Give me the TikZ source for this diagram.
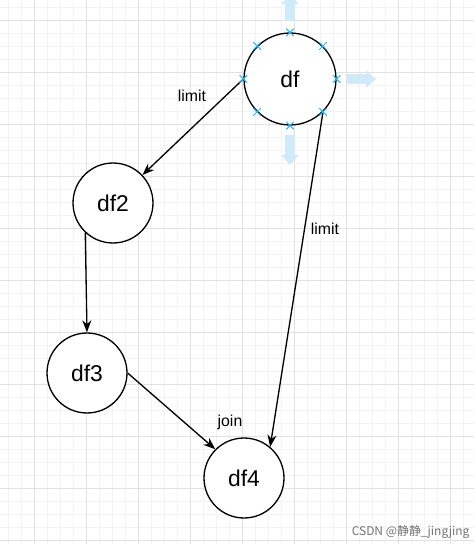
\documentclass[tikz,border=0pt]{standalone}
\usepackage{fontspec}
\setmainfont{Liberation Sans}
\newfontfamily\cjk{Noto Sans CJK SC}
\usetikzlibrary{arrows.meta}
\usetikzlibrary{shapes.misc}
\definecolor{gridminor}{RGB}{243,243,243}
\definecolor{gridmajor}{RGB}{225,225,225}
\definecolor{handleblue}{RGB}{41,182,242}
\definecolor{hintblue}{RGB}{208,234,250}
\tikzset{
every picture/.style={x=0.02cm, y=-0.02cm, line width=0.75pt,
                      >={Stealth[length=2.4mm,width=1.8mm]}},
%%%%%%%%%% grid lines
minorline/.style={draw=gridminor, line width=0.35pt},
majorline/.style={draw=gridmajor, line width=0.5pt},
%%%%%%%%%% frame nodes
dfnode/.style={circle, draw, fill=white, inner sep=0pt, minimum size=#1,
               font=\fontsize{13}{15}\selectfont},
dfnode/.default=1.6cm,
edgelabel/.style={font=\fontsize{9}{11}\selectfont, inner sep=1pt},
%%%%%%%%%% selection handles of the editor
handle/.style={cross out, draw=handleblue, line width=0.6pt,
               minimum size=0.13cm, inner sep=0pt},
hint/.style={draw=hintblue, line width=0.2cm,
             -{Triangle[length=0.2cm,width=0.34cm]}},
watermark/.style={font=\cjk\fontsize{6.8}{8}\selectfont, text=black!55, inner sep=0pt}
}

\begin{document}
\begin{tikzpicture}
\useasboundingbox (0,0) rectangle (474,544);
\clip (0,0) rectangle (474,544);
\fill[white] (0,0) rectangle (474,544);
%% background grid
\foreach \x in {8,21,...,474} \draw[minorline] (\x,0) -- (\x,544);
\foreach \y in {7,20,...,544} \draw[minorline] (0,\y) -- (474,\y);
\foreach \x in {34,86,...,474} \draw[majorline] (\x,0) -- (\x,544);
\foreach \y in {20,72,...,544} \draw[majorline] (0,\y) -- (474,\y);
%% the frames
\node[dfnode=1.84cm] (df) at (290,79) {df};
\node[dfnode] (df2) at (113,203) {df2};
\node[dfnode] (df3) at (87,373) {df3};
\node[dfnode] (df4) at (244,478) {df4};
%% the steps
\draw[->] (df.west) -- (df2);
\draw[->] (df.-45) -- (df4.50);
\draw[->] (df2.227) -- (df3.north);
\draw[->] (df3.east) -- (df4.135);
\node[edgelabel] (lim1) at (192,96) {limit};
\node[edgelabel] (lim2) at (325,229) {limit};
\node[edgelabel] (join) at (230,422) {join};
%% df is selected: handles and hint arrows
\foreach \a in {0,45,...,315} \node[handle] (h\a) at (df.\a) {};
\draw[hint] (290,21) -- (290,-6);
\draw[hint] (347,79) -- (376,79);
\draw[hint] (290,135) -- (290,165);
%% watermark
\node[watermark, anchor=east] (mark) at (470,532) {CSDN @静静\_jingjing};
\end{tikzpicture}
\end{document}
